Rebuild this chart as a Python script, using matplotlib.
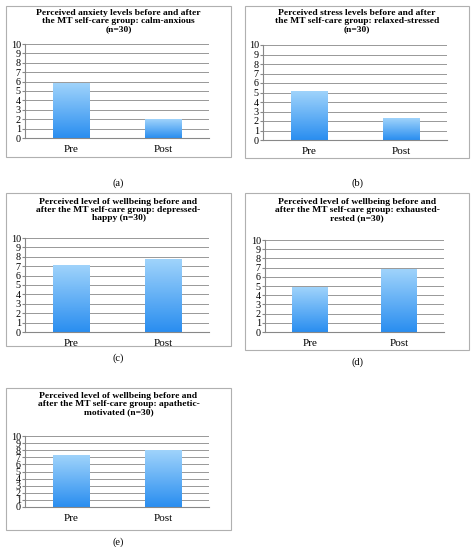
import matplotlib
matplotlib.use("Agg")
import matplotlib.pyplot as plt
import numpy as np
from matplotlib.patches import Rectangle
from matplotlib.colors import LinearSegmentedColormap

categories = ["Pre", "Post"]
vals_a = [5.8, 2.0]
vals_b = [5.1, 2.3]
vals_c = [7.1, 7.7]
vals_d = [4.8, 6.8]
vals_e = [7.2, 7.9]
titles = [
    "Perceived anxiety levels before and after\nthe MT self-care group: calm-anxious\n(n=30)",
    "Perceived stress levels before and after\nthe MT self-care group: relaxed-stressed\n(n=30)",
    "Perceived level of wellbeing before and\nafter the MT self-care group: depressed-\nhappy (n=30)",
    "Perceived level of wellbeing before and\nafter the MT self-care group: exhausted-\nrested (n=30)",
    "Perceived level of wellbeing before and\nafter the MT self-care group: apathetic-\nmotivated (n=30)",
]
letters = ["(a)", "(b)", "(c)", "(d)", "(e)"]

W, H = 474, 547
fig = plt.figure(figsize=(W/100, H/100), dpi=100)
plt.rcParams['font.family'] = ['Liberation Serif', 'DejaVu Serif']
cmap = LinearSegmentedColormap.from_list("g", ["#2a8ef0", "#9fd3fb"])

def px(x0, y0, x1, y1):
    return [x0/W, 1-y1/H, (x1-x0)/W, (y1-y0)/H]

panels = [
    (vals_a, (6, 6, 231, 157), (25, 44, 209, 138), 9, 183),
    (vals_b, (245, 6, 469, 158), (263, 45, 447, 140), 9, 183),
    (vals_c, (6, 193, 231, 346), (25, 238, 209, 332), 198, 358),
    (vals_d, (245, 193, 469, 350), (265, 240, 444, 332), 198, 362),
    (vals_e, (6, 388, 231, 530), (25, 436, 209, 507), 392, 542),
]

for i, (vals, box, pa, ty, ly) in enumerate(panels):
    fig.patches.append(Rectangle((box[0]/W, 1-box[3]/H), (box[2]-box[0])/W, (box[3]-box[1])/H,
                                 transform=fig.transFigure, fill=False, ec="#b0b0b0", lw=0.8))
    fig.text((box[0]+box[2])/2/W, 1-ty/H, titles[i], ha="center", va="top",
             fontsize=6.8, fontweight="bold", linespacing=1.0)
    fig.text((box[0]+box[2])/2/W, 1-ly/H, letters[i], ha="center", va="center", fontsize=7.5)
    ax = fig.add_axes(px(*pa))
    x = np.arange(len(categories))
    w = 0.4
    grad = np.linspace(0, 1, 100).reshape(-1, 1)
    for xi, v in zip(x, vals):
        ax.imshow(grad, extent=(xi-w/2, xi+w/2, 0, v), origin="lower", cmap=cmap,
                  aspect="auto", zorder=2)
    ax.set_xlim(-0.5, 1.5)
    ax.set_ylim(0, 10)
    ax.set_yticks(range(0, 11))
    ax.set_xticks(x)
    ax.set_xticklabels(categories)
    ax.grid(axis="y", color="#888888", lw=0.6, zorder=0)
    for s in ["top", "right"]:
        ax.spines[s].set_visible(False)
    ax.spines["left"].set_color("#888888")
    ax.spines["bottom"].set_color("#888888")
    ax.tick_params(labelsize=7.3, length=2, color="#888888", pad=1)
    ax.tick_params(axis="x", length=0, pad=5, labelsize=8)

fig.savefig("out.png", dpi=100)
